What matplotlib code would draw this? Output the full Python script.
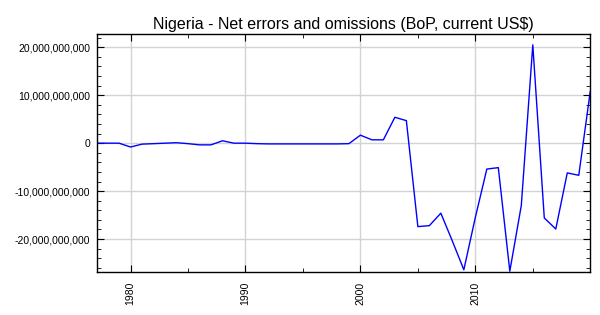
import matplotlib
matplotlib.use('Agg')
import matplotlib.pyplot as plt
from matplotlib.ticker import FuncFormatter, MultipleLocator

plt.rcParams['font.family'] = ['Liberation Sans', 'DejaVu Sans']

years = list(range(1977, 2021))
# net errors and omissions, billions of US$
values = [0.0, 0.0, 0.0, -0.8, -0.2, -0.1, 0.0, 0.1, -0.1, -0.35,
          -0.35, 0.5, 0.0, 0.0, -0.1, -0.15, -0.15, -0.15, -0.15, -0.15,
          -0.15, -0.15, -0.1, 1.67, 0.7, 0.7, 5.4, 4.7, -17.4, -17.2,
          -14.6, -20.4, -26.4, -15.5, -5.4, -5.1, -26.7, -13.0, 20.5, -15.6,
          -17.9, -6.2, -6.7, 10.8]
values = [v * 1e9 for v in values]

fig = plt.figure(figsize=(6, 3.15), dpi=100)
ax = fig.add_axes([0.162, 0.136, 0.821, 0.755])
ax.plot(years, values, color='#0000ff', linewidth=1)

ax.set_xlim(1977.1, 2019.96)
ax.set_ylim(-26.9e9, 22.7e9)
ax.xaxis.set_major_locator(MultipleLocator(10))
ax.xaxis.set_minor_locator(MultipleLocator(5))
ax.yaxis.set_major_locator(MultipleLocator(10e9))
ax.yaxis.set_minor_locator(MultipleLocator(2e9))
ax.yaxis.set_major_formatter(FuncFormatter(lambda v, p: f'{v:,.0f}'))

ax.grid(True, which='major', color='#d3d3d3', linewidth=1)
ax.tick_params(which='both', direction='in', top=True, right=True, labelsize=7.5, colors='black')
ax.tick_params(which='major', length=5)
ax.tick_params(which='minor', length=3)
ax.tick_params(axis='y', pad=5)
ax.tick_params(axis='x', pad=7)
for lbl in ax.get_xticklabels():
    lbl.set_rotation(90)
for s in ax.spines.values():
    s.set_linewidth(1)

ax.set_title('Nigeria - Net errors and omissions (BoP, current US$)', fontsize=11.5, pad=4)
fig.savefig('out.png', dpi=100)
